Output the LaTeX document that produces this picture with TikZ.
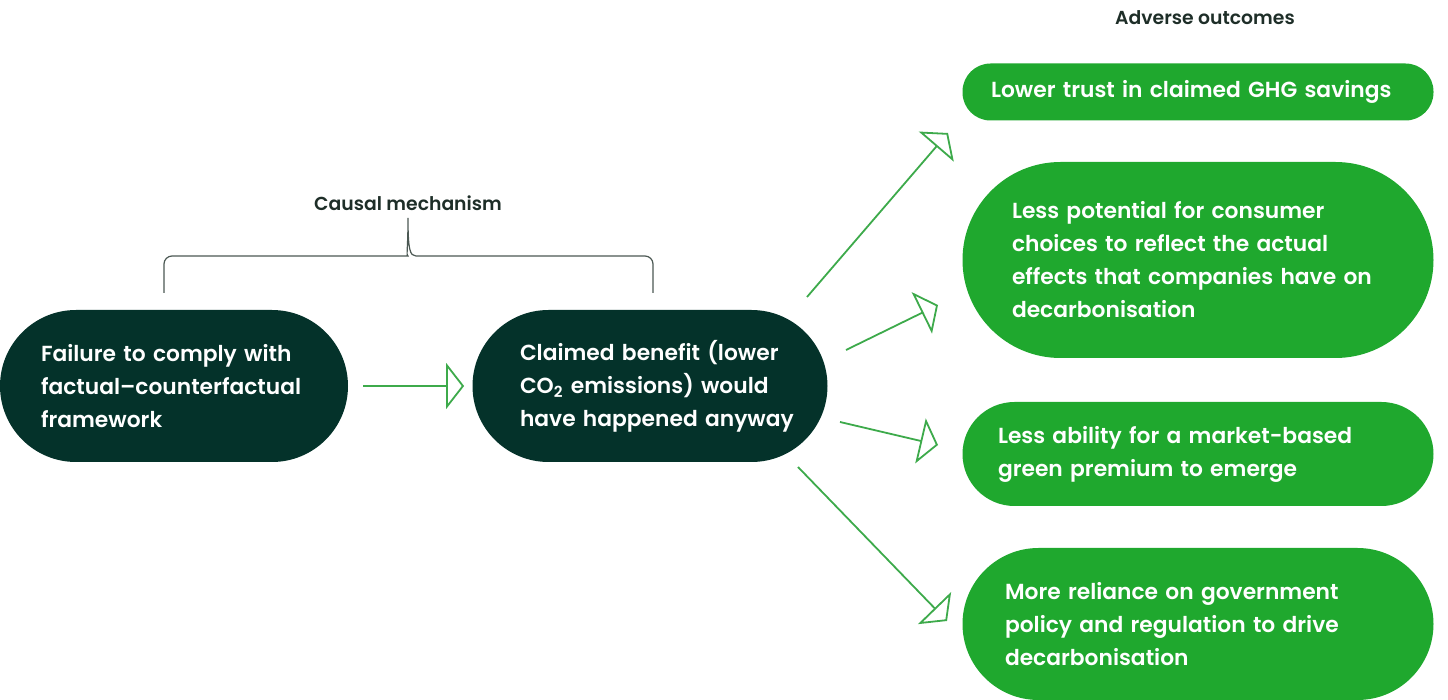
\documentclass[tikz,border=0pt]{standalone}
\usepackage{fontspec}
\setmainfont{Poppins}[BoldFont={Poppins SemiBold}]
\usepackage{xcolor}
\usetikzlibrary{arrows.meta}
\definecolor{darkpine}{HTML}{04322A}
\definecolor{leafgreen}{HTML}{1FA82E}
\definecolor{arrowgreen}{HTML}{3DAA4B}
\definecolor{labelink}{HTML}{1E2E28}

\begin{document}
\begin{tikzpicture}[
  x=0.5pt, y=-0.5pt,
  cause/.style={rectangle, fill=darkpine, text=white, align=left,
                minimum height=76pt, rounded corners=38pt, inner sep=0pt,
                font=\bfseries\fontsize{10.9}{16.5}\selectfont},
  outcome/.style={rectangle, fill=leafgreen, text=white, align=left,
                  minimum width=235.5pt, inner sep=0pt,
                  font=\bfseries\fontsize{10.9}{16.5}\selectfont},
  heading/.style={text=labelink, font=\bfseries\fontsize{9.4}{12}\selectfont},
  flow/.style={-{Triangle[open, length=9pt, width=23pt]}, arrowgreen, line width=0.9pt}
]
  \useasboundingbox (0,0) rectangle (1448,700);

  % left-hand chain
  \node[cause, minimum width=174pt, text width=133pt] (fail) at (174,386)
    {\mbox{Failure to comply with}\\ \mbox{factual--counterfactual}\\ framework};
  \node[cause, minimum width=177.5pt, text width=130pt] (claim) at (650,386)
    {\mbox{Claimed benefit (lower}\\ \mbox{CO\textsubscript{2} emissions) would}\\ \mbox{have happened anyway}};
  \draw[flow, shorten <=7.5pt, shorten >=4pt] (fail.east) -- (claim.west);

  % brace over the mechanism
  \node[heading] (mech) at (408,203) {Causal mechanism};
  \coordinate (bl) at (164,293);
  \coordinate (br) at (653,293);
  \coordinate (btip) at (408,218);
  \draw[labelink!80, line width=0.6pt]
    (bl) [rounded corners=4pt] -- (164,256) -- (400,256) [sharp corners]
      .. controls (406,256) and (408,250) .. (btip)
      .. controls (408,250) and (410,256) .. (416,256)
    [rounded corners=4pt] -- (653,256) -- (br);

  % outcomes
  \node[heading] (adv) at (1205,18) {Adverse outcomes};
  \node[outcome, minimum height=28.5pt, rounded corners=14pt, text width=207pt] (trust) at (1198,92)
    {\mbox{Lower trust in claimed GHG savings}};
  \node[outcome, minimum height=98pt, rounded corners=49pt, text width=186pt] (choice) at (1198,260)
    {Less potential for consumer\\ choices to reflect the actual\\ \mbox{effects that companies have on}\\ decarbonisation};
  \node[outcome, minimum height=52pt, rounded corners=26pt, text width=200pt] (premium) at (1198,454)
    {\mbox{Less ability for a market-based}\\ green premium to emerge};
  \node[outcome, minimum height=76pt, rounded corners=38pt, text width=193pt] (policy) at (1198,624)
    {More reliance on government\\ policy and regulation to drive\\ decarbonisation};

  % arrows fanning out
  \coordinate (s1) at (807,297);  \coordinate (e1) at (948,133);
  \coordinate (s2) at (846,350);  \coordinate (e2) at (938,305);
  \coordinate (s3) at (840,422);  \coordinate (e3) at (938,445);
  \coordinate (s4) at (798,467);  \coordinate (e4) at (947,621);
  \foreach \i in {1,...,4}
    \draw[flow] (s\i) -- (e\i);
\end{tikzpicture}
\end{document}
